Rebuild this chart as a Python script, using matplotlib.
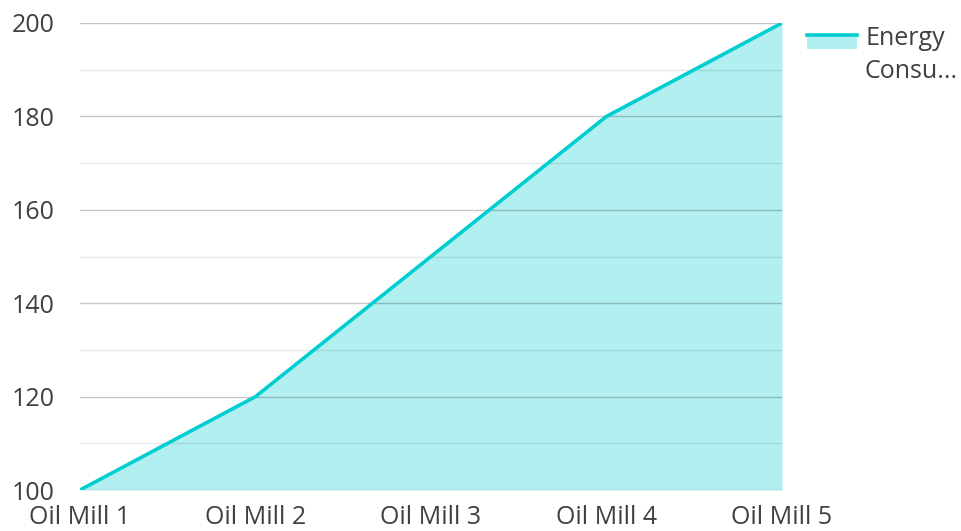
import matplotlib.pyplot as plt
from matplotlib.legend_handler import HandlerBase
from matplotlib.patches import Rectangle
from matplotlib.lines import Line2D
from matplotlib.ticker import MultipleLocator

# -------------------------------------------------------------------
# DATA
# -------------------------------------------------------------------
mills = ["Oil Mill 1", "Oil Mill 2", "Oil Mill 3", "Oil Mill 4", "Oil Mill 5"]
energy = [100, 120, 150, 180, 200]
series_label = "Energy\nConsu..."

LINE_COLOR = "#00CED1"
FILL_COLOR = "#b2eff0"
TEXT_COLOR = "#404040"

plt.rcParams["font.family"] = ["Open Sans", "DejaVu Sans"]


# legend marker: filled box with the line along its top edge,
# lined up with the first row of the (two-line) label
class AreaHandler(HandlerBase):
    def create_artists(self, legend, orig, xd, yd, width, height, fontsize, trans):
        top = yd + height * 0.5 + 15
        box = Rectangle((xd, top - 10), width, 10,
                        facecolor=FILL_COLOR, edgecolor="none", transform=trans)
        line = Line2D([xd, xd + width], [top, top], color=LINE_COLOR,
                      linewidth=2.6, transform=trans)
        return [box, line]


fig = plt.figure(figsize=(9.61, 5.31), dpi=100)
ax = fig.add_axes([80 / 961, 1 - 490 / 531, 702 / 961, 467 / 531])

x = list(range(len(mills)))
ax.fill_between(x, energy, 100, color=FILL_COLOR, linewidth=0, zorder=1)
ax.plot(x, energy, color=LINE_COLOR, linewidth=2.6, zorder=3,
        solid_joinstyle="round")

ax.set_xlim(0, len(mills) - 1)
ax.set_ylim(100, 200)
ax.set_xticks(x)
ax.set_xticklabels(mills)
ax.yaxis.set_major_locator(MultipleLocator(20))
ax.yaxis.set_minor_locator(MultipleLocator(10))

ax.set_axisbelow(False)
ax.grid(axis="y", which="major", color="black", alpha=0.22, linewidth=1.0, zorder=2)
ax.grid(axis="y", which="minor", color="black", alpha=0.09, linewidth=1.0, zorder=2)
ax.grid(axis="x", visible=False)

for s in ax.spines.values():
    s.set_visible(False)

ax.tick_params(axis="both", which="both", length=0, labelsize=18, labelcolor=TEXT_COLOR)
ax.tick_params(axis="x", pad=11)
ax.tick_params(axis="y", pad=18)

leg = fig.legend(handles=[Rectangle((0, 0), 1, 1)], labels=[series_label],
                 handler_map={Rectangle: AreaHandler()},
                 loc="upper left", bbox_to_anchor=(807 / 961, 1 - 26 / 531),
                 frameon=False, fontsize=18, handlelength=2.0, handletextpad=0.32,
                 borderaxespad=0, borderpad=0)
for t in leg.get_texts():
    t.set_color(TEXT_COLOR)
    t.set_linespacing(1.4)

fig.savefig("out.png", dpi=100)
